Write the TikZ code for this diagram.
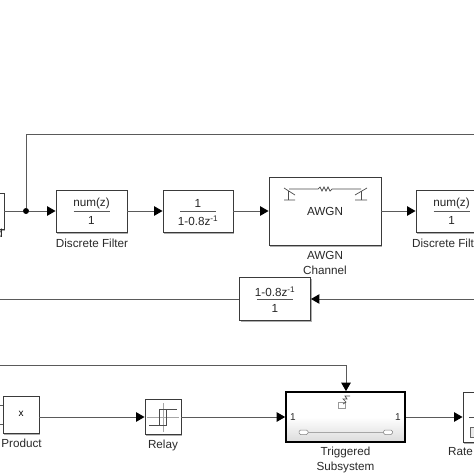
\documentclass[tikz,border=0pt]{standalone}
\usepackage{fontspec}
\setmainfont{Liberation Sans}
\usetikzlibrary{arrows.meta,shadows}
\definecolor{wire}{HTML}{5A5A5A}
\definecolor{edge}{HTML}{3A3A3A}
\definecolor{txt}{HTML}{2A2A2A}
\tikzset{
  block/.style={draw=edge,line width=0.9pt,fill=white,minimum width=#1,inner sep=0pt,
    general shadow={shadow xshift=1.4pt,shadow yshift=-1.6pt,fill=black!45,opacity=.7}},
  block/.default=70pt,
  wirel/.style={draw=wire,line width=1pt},
  arrowl/.style={wirel,-{Triangle[length=8.5pt,width=9.5pt,fill=black,color=black]}},
  lbl/.style={font=\fontsize{11.7}{15}\selectfont,text=txt,inner sep=0pt,align=center},
  val/.style={font=\fontsize{11.7}{14}\selectfont,text=black!85,inner sep=0pt},
  port/.style={font=\fontsize{10}{12}\selectfont,text=txt,inner sep=0pt},
  fbar/.style={draw=black!65,line width=1pt},
  junction/.style={circle,fill=black,inner sep=0pt,minimum size=6pt},
  icon/.style={draw=black!70,line width=.7pt},
  axisl/.style={draw=black!35,line width=.6pt},
  chan/.style={draw=black!50,line width=.5pt,rounded corners=1.5pt,fill=white},
}
\newcommand{\fracin}[4]{%
  \node[val] at ([yshift=7.5pt]#1.center) {#2};
  \node[val] at ([yshift=-9.5pt]#1.center) {#3};
  \draw[fbar] ([xshift=-#4]#1.center) -- ([xshift=#4]#1.center);}
\begin{document}
\begin{tikzpicture}[x=1pt,y=-1pt]
\useasboundingbox (0,0) rectangle (474,474);
\clip (0,0) rectangle (474,474);
\fill[white] (0,0) rectangle (474,474);

% blocks
\node[block=44pt,minimum height=36pt] (src) at (-18,211) {};
\node[block=71pt,minimum height=42pt] (f1) at (91.5,211) {};
\node[block=70pt,minimum height=42pt] (g1) at (198,211) {};
\node[block=112pt,minimum height=68pt] (awgn) at (325,211) {};
\node[block=71pt,minimum height=42pt] (f2) at (451.5,211) {};
\node[block=71pt,minimum height=43pt] (g2) at (275,299) {};
\node[block=36pt,minimum height=37pt] (prod) at (21,414.5) {};
\node[block=36pt,minimum height=35pt] (relay) at (163,417) {};
\node[draw=black,line width=1.7pt,minimum width=119pt,minimum height=50pt,inner sep=0pt,
  top color=white,bottom color=black!14,middle color=white,
  general shadow={shadow xshift=1pt,shadow yshift=-1.2pt,fill=black!35,opacity=.6}] (trig) at (345.5,417) {};
\node[block=36pt,minimum height=50pt] (rate) at (481,417) {};

% coordinates
\node[junction] (j) at (26,211) {};
\coordinate (topc) at (26,134);
\coordinate (topr) at (474,134);
\coordinate (midr) at (474,299);
\coordinate (midl) at (0,299);
\coordinate (lowl) at (0,365);
\coordinate (lowc) at (346,365);
\coordinate (p1) at (0,405.5);
\coordinate (p2) at (0,424);

% connectors
\draw[wirel] (src.east) -- (j);
\draw[arrowl] (j) -- (f1.west);
\draw[arrowl] (f1.east) -- (g1.west);
\draw[arrowl] (g1.east) -- (awgn.west);
\draw[arrowl] (awgn.east) -- (f2.west);
\draw[wirel] (j) -- (topc) -- (topr);
\draw[arrowl] (midr) -- (g2.east);
\draw[wirel] (g2.west) -- (midl);
\draw[arrowl] (lowl) -- (lowc) -- (trig.north -| lowc);
\draw[wirel] (p1) -- (p1 -| prod.west);
\draw[wirel] (p2) -- (p2 -| prod.west);
\draw[arrowl] (prod.east |- relay.west) -- (relay.west);
\draw[arrowl] (relay.east) -- (trig.west);
\draw[arrowl] (trig.east) -- (rate.west);

% block contents
\fracin{f1}{num(z)}{1}{18pt}
\fracin{g1}{1}{1-0.8z\textsuperscript{-1}}{18pt}
\fracin{f2}{num(z)}{1}{18pt}
\fracin{g2}{1-0.8z\textsuperscript{-1}}{1}{18pt}

\node[val] at (awgn.center) {AWGN};
\draw[icon] (289,189) -- (318,189) -- (320,187) -- (322,191) -- (324,187) -- (326,191) -- (328,187) -- (330,191) -- (332,189) -- (361,189);
\draw[icon] (284,188) -- (295,195) (288.5,191) -- (288.5,200) (284,200) -- (295,200);
\draw[icon] (367,188) -- (355,195) (361.5,191) -- (361.5,200) (355,200) -- (367,200);

\node[font=\fontsize{10}{12}\selectfont,text=black,inner sep=0pt] at ([yshift=1pt]prod.center) {x};

\draw[axisl] (147,417) -- (179,417) (163,403) -- (163,432);
\draw[icon] (149,425.5) -- (166,425.5) -- (166,409.5) -- (159,409.5) -- (159,425.5);
\draw[icon] (166,409.5) -- (177,409.5);

\node[port] at (293,417.5) {1};
\node[port] at (398,417.5) {1};
\draw[draw=black!40,line width=.6pt,fill=white] (338,402) rectangle (345,408.5);
\draw[draw=black!70,line width=.7pt] (350,396) -- (345,396) -- (347,399) -- (343,399) -- (346,402) -- (343,404);
\draw[draw=black!35,line width=.7pt] (303,432) -- (388,432);
\draw[chan] (299,430) rectangle (308,434.5);
\draw[chan] (383.5,430) rectangle (392.5,434.5);

\draw[draw=black!70,line width=.9pt] (469,417) -- (474,417);
\draw[draw=black!60,line width=.8pt,fill=black!8] (470,427) rectangle (480,437);

% labels
\node[lbl,anchor=east] at (3.2,233) {d};
\node[lbl] at (92,243) {Discrete Filter};
\node[lbl,anchor=west] at (412,243) {Discrete Filter};
\node[lbl] at (325,262.5) {AWGN\\Channel};
\node[lbl] at (21.5,443) {Product};
\node[lbl] at (163,445.5) {Relay};
\node[lbl] at (345.5,459.5) {Triggered\\Subsystem};
\node[lbl,anchor=west] at (448,452) {Rate};
\end{tikzpicture}
\end{document}
